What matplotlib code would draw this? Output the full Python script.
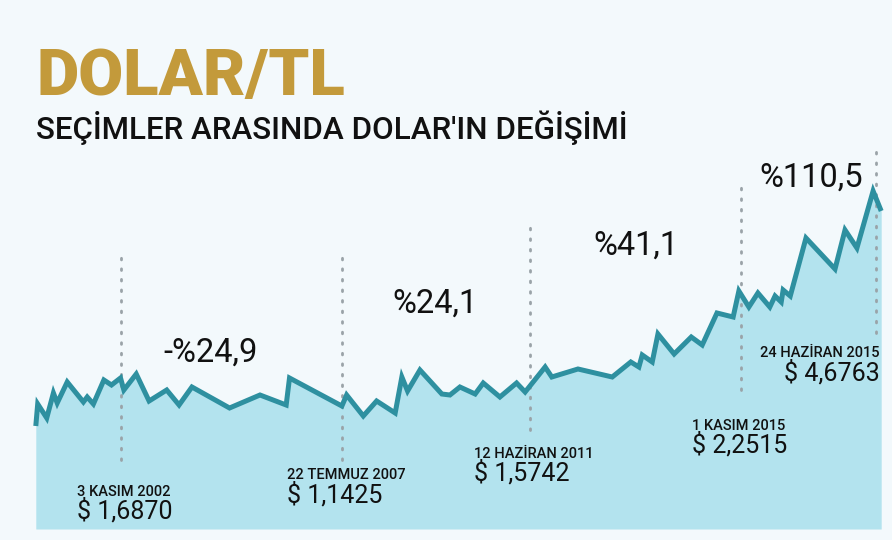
import numpy as np
import matplotlib.pyplot as plt

# approximate timeline (years) and relative dollar level
years = [2001.05, 2001.09, 2001.28, 2001.42, 2001.50, 2001.71, 2002.05, 2002.13, 2002.26, 2002.48,
         2002.64, 2002.83, 2002.90, 2003.16, 2003.43, 2003.80, 2004.06, 2004.33, 2005.12, 2005.76,
         2006.31, 2006.38, 2007.48, 2007.58, 2007.93, 2008.21, 2008.60, 2008.74, 2008.86, 2009.12,
         2009.58, 2009.75, 2009.96, 2010.28, 2010.45, 2010.80, 2011.15, 2011.33, 2011.75, 2011.89,
         2012.44, 2013.16, 2013.55, 2013.72, 2013.79, 2014.00, 2014.12, 2014.46, 2014.82, 2015.05,
         2015.36, 2015.70, 2015.82, 2016.03, 2016.22, 2016.47, 2016.58, 2016.71, 2016.75, 2016.90,
         2017.23, 2017.84, 2018.05, 2018.30, 2018.64, 2018.81]
level = [1.03, 1.25, 1.11, 1.36, 1.26, 1.47, 1.27, 1.32, 1.25, 1.49,
         1.44, 1.51, 1.39, 1.55, 1.28, 1.39, 1.24, 1.42, 1.21, 1.34,
         1.24, 1.51, 1.23, 1.34, 1.13, 1.28, 1.16, 1.52, 1.38, 1.59,
         1.35, 1.34, 1.42, 1.35, 1.46, 1.32, 1.46, 1.37, 1.62, 1.52,
         1.60, 1.52, 1.67, 1.62, 1.74, 1.67, 1.95, 1.75, 1.92, 1.84,
         2.16, 2.12, 2.38, 2.22, 2.36, 2.22, 2.33, 2.27, 2.39, 2.33,
         2.91, 2.60, 2.99, 2.81, 3.38, 3.18]

# elections
election_x = [2002.84, 2007.48, 2011.44, 2015.86, 2018.70]
election_dates = ["3 KASIM 2002", "22 TEMMUZ 2007", "12 HAZİRAN 2011", "1 KASIM 2015", "24 HAZİRAN 2015"]
election_rates = ["$ 1,6870", "$ 1,1425", "$ 1,5742", "$ 2,2515", "$ 4,6763"]
changes = ["-%24,9", "%24,1", "%41,1", "%110,5"]

bg = "#f3f9fc"
gold = "#c39a3b"
teal = "#2e90a0"
fill = "#b3e3ee"
dots = "#9aa3a8"

plt.rcParams['font.family'] = ['Roboto', 'DejaVu Sans']

W, H = 892, 540
fig = plt.figure(figsize=(W / 100, H / 100), dpi=100, facecolor=bg)
ax = fig.add_axes([0, 0, 1, 1])
ax.set_facecolor(bg)
ax.set_xlim(2000.298, 2019.037)
ax.set_ylim(-0.11, 5.29)
ax.axis('off')

ax.fill_between(years, 0, level, color=fill, linewidth=0, zorder=1)
ax.plot(years, level, color=teal, lw=3.6, solid_joinstyle='miter', solid_capstyle='butt', zorder=3)

# dotted guides (top, bottom in level units)
guides = [(2.74, 0.69), (2.74, 0.69), (3.02, 0.99), (3.44, 1.39), (3.84, 1.96)]
for x, (top, bot) in zip(election_x, guides):
    ax.plot([x, x], [bot, top], color=dots, lw=2, linestyle=(0, (0.6, 3.2)),
            dash_capstyle='round', zorder=2)


def px(x, y):
    return x / W, 1 - y / H


fig.text(*px(37, 95), "DOLAR/TL", color=gold, fontsize=47, fontweight='heavy', va='baseline')
fig.text(*px(36, 139), "SEÇİMLER ARASINDA DOLAR'IN DEĞİŞİMİ", color="#111111",
         fontsize=22.6, fontweight='medium', va='baseline')

# change labels
change_pos = [(163, 362), (392, 313), (593, 255), (759, 187)]
for s, (x, y) in zip(changes, change_pos):
    fig.text(*px(x, y), s, fontsize=23.5, color="#111111", va='baseline')

# election labels
date_pos = [(77, 496, 'left'), (287, 479, 'left'), (474, 458, 'left'), (692, 430, 'left'), (880, 357, 'right')]
for d, r, (x, y, ha) in zip(election_dates, election_rates, date_pos):
    fig.text(*px(x, y), d, fontsize=10.5, color="#111111", fontweight='medium', ha=ha, va='baseline')
    fig.text(*px(x, y + 23), r, fontsize=18, color="#111111", ha=ha, va='baseline')

fig.savefig("out.png", dpi=100, facecolor=bg)
